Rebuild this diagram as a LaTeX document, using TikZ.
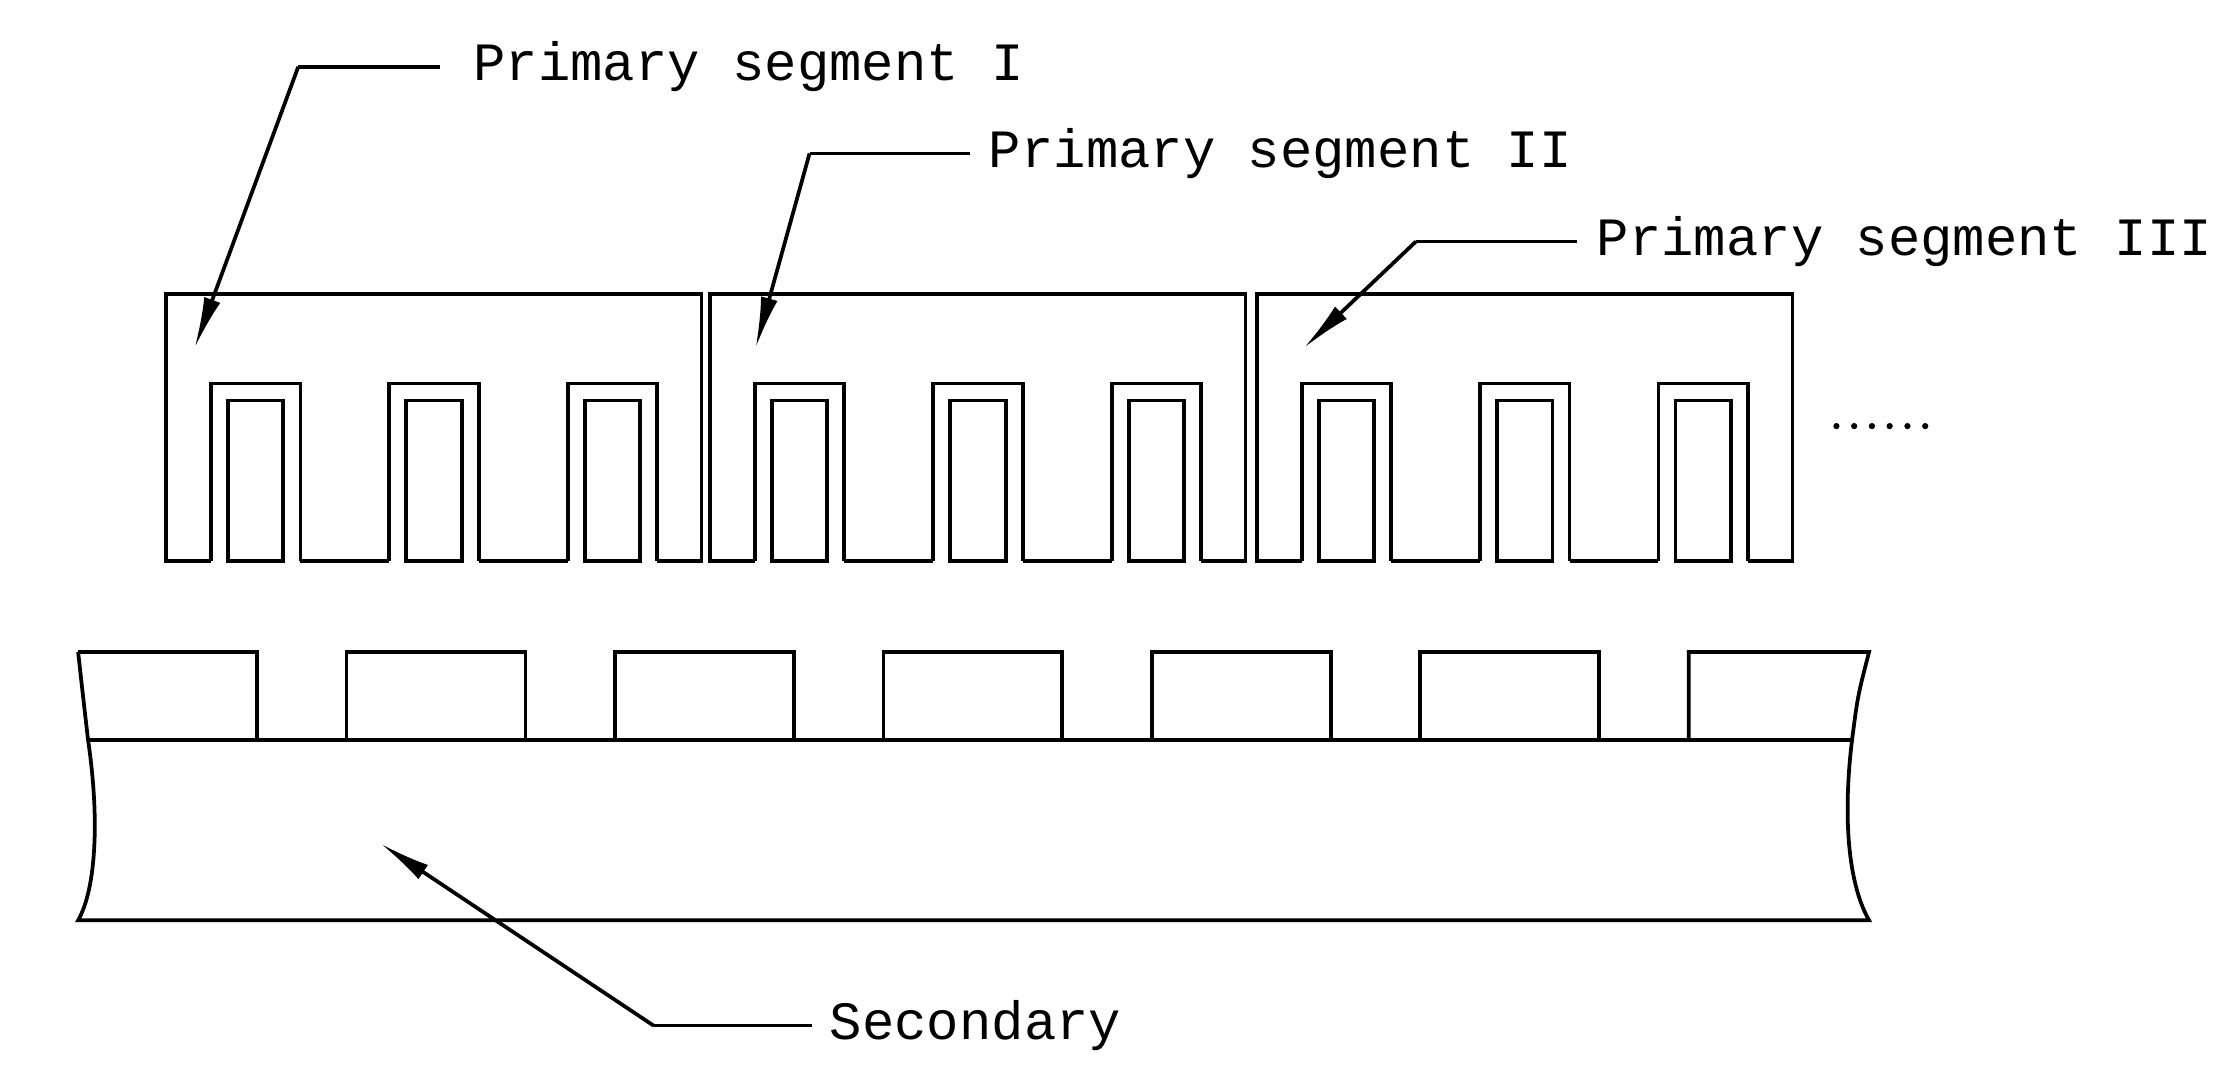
\documentclass[tikz,border=0pt]{standalone}
\usepackage{fontspec}
\setmonofont{Liberation Mono}
\usetikzlibrary{arrows.meta}
\begin{document}
\begin{tikzpicture}[x=0.01cm,y=-0.01cm,line width=0.75pt,line join=miter,
  lbl/.style={font=\ttfamily\fontsize{10.8}{12}\selectfont,anchor=west,inner sep=0pt},
  lead/.style={-{Latex[length=0.36cm,width=0.12cm]}}]
\useasboundingbox (0,0) rectangle (1568,766);
% primary segments
\foreach \L in {117,500,885}{
  \pgfmathsetmacro{\R}{\L+377}
  \draw (\L+31.5,395) -- (\L,395) -- (\L,207) -- (\R,207) -- (\R,395) -- (\R-31.5,395);
  \foreach \k in {0,1,2}{
    \pgfmathsetmacro{\sx}{\L+31.5+125.6*\k}
    \draw (\sx,395) -- (\sx,270) -- (\sx+63,270) -- (\sx+63,395);
    \draw (\sx+12,395) rectangle (\sx+51,282);
  }
  \draw (\L+94.5,395) -- (\L+157.1,395);
  \draw (\L+220.1,395) -- (\L+282.7,395);
}
% secondary
\draw (55,459) .. controls (59,495) .. (62,521) .. controls (70,575) and (68,625) .. (55,648) -- (1316,648)
  .. controls (1300,620) and (1298,570) .. (1304,521) .. controls (1308,490) .. (1316,459) -- (1189,459) -- (1189,521);
\draw (62,521) -- (1304,521);
\draw (55,459) -- (181,459) -- (181,521);
\foreach \x in {244,433,622,811,1000}{
  \draw (\x,521) -- (\x,459) -- (\x+126,459) -- (\x+126,521);
}
\foreach \i in {0,...,5}{
  \fill (1293+12.5*\i,300) circle[radius=2.2];
}
% labels
\node[lbl] (p1) at (332,47) {Primary segment I};
\node[lbl] (p2) at (695,108) {Primary segment II};
\node[lbl] (p3) at (1123,170) {Primary segment III};
\node[lbl] (sec) at (583,722) {Secondary};
\coordinate (k1) at (210,47); \coordinate (t1) at (137,245);
\coordinate (k2) at (570,108); \coordinate (t2) at (532,245);
\coordinate (k3) at (997,170); \coordinate (t3) at (918,245);
\coordinate (k4) at (460,722); \coordinate (t4) at (268,594);
\draw (p1.west) ++(-22,0) -- (k1);
\draw[lead] (k1) -- (t1);
\draw (p2.west) ++(-12,0) -- (k2);
\draw[lead] (k2) -- (t2);
\draw (p3.west) ++(-13,0) -- (k3);
\draw[lead] (k3) -- (t3);
\draw (sec.west) ++(-11,0) -- (k4);
\draw[lead] (k4) -- (t4);
\end{tikzpicture}
\end{document}
